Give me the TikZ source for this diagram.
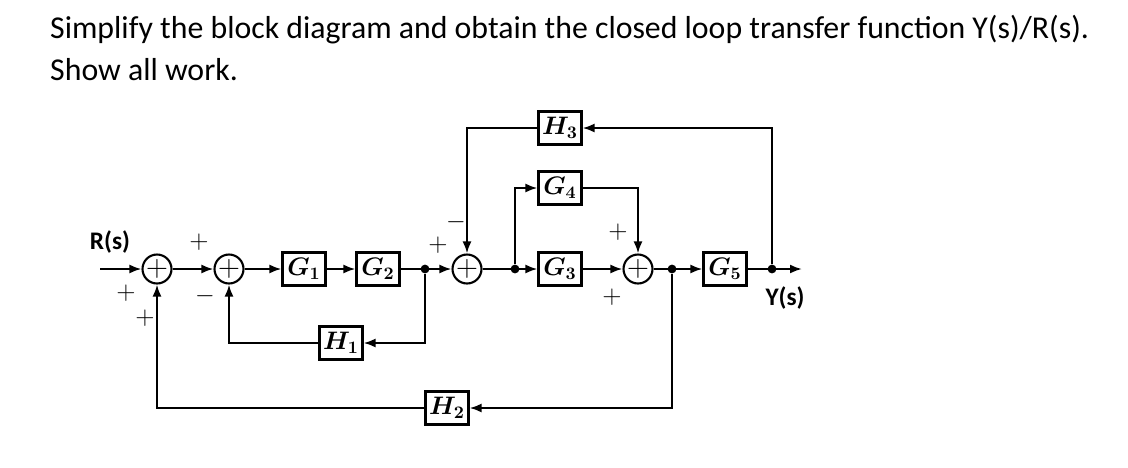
\documentclass[tikz,border=0pt]{standalone}
\usepackage{amsmath}
\usepackage{fontspec}
\setmainfont{Carlito}
\usetikzlibrary{arrows.meta, positioning, calc}

\begin{document}
\begin{tikzpicture}[
    x=0.02cm, y=-0.02cm,
    block/.style={rectangle, draw, very thick, minimum width=0.86cm, minimum height=0.66cm, inner sep=1pt, font=\Large\boldmath},
    sum/.style={circle, draw, very thick, minimum size=0.56cm, inner sep=0pt, font=\LARGE},
    dot/.style={circle, fill, inner sep=0pt, minimum size=5pt},
    sig/.style={font=\Large},
    arrow/.style={-{Latex[length=2.4mm]}, very thick}
]
\useasboundingbox (0,0) rectangle (1128,467);

% Title
\node[anchor=west, font=\fontsize{18.1}{22}\selectfont] (title1) at (44,30) {Simplify the block diagram and obtain the closed loop transfer function Y(s)/R(s).};
\node[anchor=west, font=\fontsize{18.1}{22}\selectfont] (title2) at (44,70) {Show all work.};

% Forward path
\coordinate (in) at (100,269);
\node[sum] (sum1) at (157,269) {$+$};
\node[sum] (sum2) at (229,269) {$+$};
\node[block] (g1) at (304,269) {$G_1$};
\node[block] (g2) at (378,269) {$G_2$};
\node[dot] (b1) at (425,269) {};
\node[sum] (sum3) at (467,269) {$+$};
\node[dot] (b2) at (515,269) {};
\node[block] (g3) at (560,269) {$G_3$};
\node[block] (g4) at (560,188) {$G_4$};
\node[block] (h3) at (560,128) {$H_3$};
\node[sum] (sum4) at (638,269) {$+$};
\node[dot] (b3) at (672,269) {};
\node[block] (g5) at (725,269) {$G_5$};
\node[dot] (b4) at (772,269) {};
\coordinate (out) at (802,269);

% Feedback blocks
\node[block] (h1) at (341,343) {$H_1$};
\node[block] (h2) at (447,408) {$H_2$};

% Labels
\node[font=\Large\bfseries] (rs) at (110,242) {R(s)};
\node[font=\Large\bfseries] (ys) at (785,298) {Y(s)};
\node[sig] at (126,293) {$+$};
\node[sig] at (145,318) {$+$};
\node[sig] at (199,242) {$+$};
\node[sig] at (205,296) {$-$};
\node[sig] at (438,245) {$+$};
\node[sig] at (456,222) {$-$};
\node[sig] at (618,232) {$+$};
\node[sig] at (612,297) {$+$};

% Forward arrows
\draw[arrow] (in) -- (sum1);
\draw[arrow] (sum1) -- (sum2);
\draw[arrow] (sum2) -- (g1);
\draw[arrow] (g1) -- (g2);
\draw[arrow] (g2) -- (sum3);
\draw[arrow] (sum3) -- (g3);
\draw[arrow] (g3) -- (sum4);
\draw[arrow] (sum4) -- (g5);
\draw[arrow] (g5) -- (out);
\draw[arrow] (b2) |- (g4);
\draw[arrow] (g4) -| (sum4);

% Feedback arrows
\draw[arrow] (b1) |- (h1);
\draw[arrow] (h1) -| (sum2);
\draw[arrow] (b3) |- (h2);
\draw[arrow] (h2) -| (sum1);
\draw[arrow] (b4) |- (h3);
\draw[arrow] (h3) -| (sum3);

\end{tikzpicture}
\end{document}
